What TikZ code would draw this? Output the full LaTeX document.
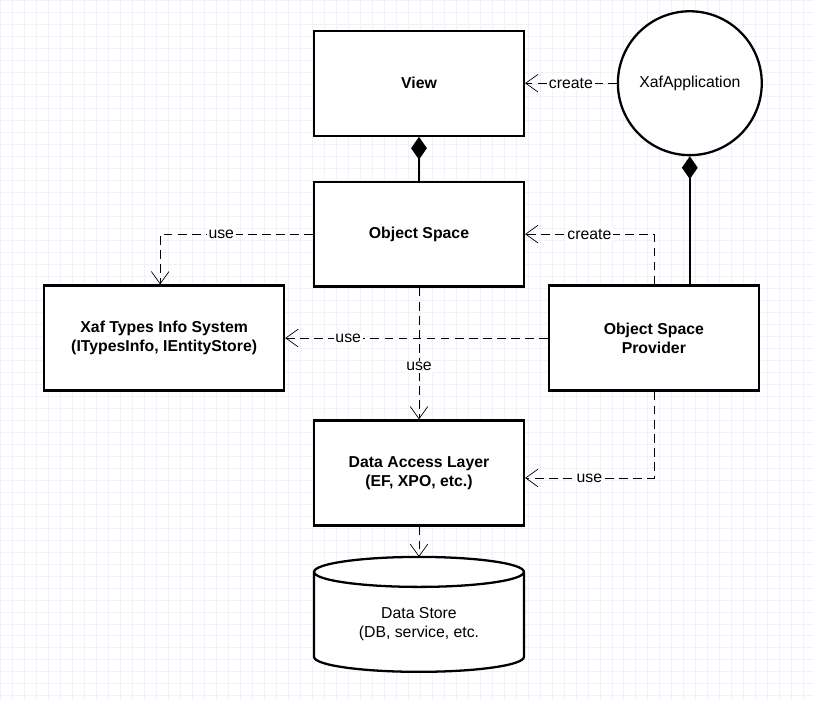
\documentclass[tikz,border=0pt]{standalone}
\usepackage{fontspec}
\setmainfont{Liberation Sans}
\usetikzlibrary{arrows.meta}
\tikzset{
  box/.style={draw, line width=1.3pt, minimum width=4.2cm, minimum height=2.1cm, align=center, font=\bfseries\small, fill=white},
  dep/.style={dashed, dash pattern=on 5pt off 3pt, -{Straight Barb[length=7pt,width=10pt]}},
  comp/.style={{Diamond[length=13pt,width=9pt]}-},
  lbl/.style={fill=white, inner sep=1pt, font=\small}
}
\begin{document}
\begin{tikzpicture}[x=0.02cm,y=-0.02cm]
   \fill[white] (0,0) rectangle (813,700);
   \draw[blue!6, line width=0.3pt, step=0.24cm] (0,0) grid (813,700);
   \useasboundingbox (0,0) rectangle (813,700);
   % boxes
   \node[box] (view) at (419,83) {View};
   \node[draw, circle, line width=1.3pt, minimum size=2.88cm, font=\small, fill=white] (app) at (690,83) {XafApplication};
   \node[box] (os) at (419,234) {Object Space};
   \node[box, minimum width=4.8cm] (tis) at (164,338) {Xaf Types Info System\\(ITypesInfo, IEntityStore)};
   \node[box] (osp) at (654,338) {Object Space\\Provider};
   \node[box] (dal) at (419,473) {Data Access Layer\\(EF, XPO, etc.)};
   % data store
   \draw[line width=1.3pt, fill=white] (314,572) -- (314,657) arc[start angle=180, end angle=0, x radius=105, y radius=15]
     -- (524,572) arc[start angle=0, end angle=-180, x radius=105, y radius=15] -- cycle;
   \draw[line width=1.3pt] (314,572) arc[start angle=180, end angle=0, x radius=105, y radius=15];
   \coordinate (dstop) at (419,557);
   \node[align=center, font=\small] (ds) at (419,624) {Data Store\\(DB, service, etc.};
   % connectors
   \draw[dep] (app.west) -- node[lbl]{create} (view.east);
   \draw[comp, line width=0.8pt] (view.south) -- (os.north);
   \draw[comp, line width=0.8pt] (app.south) -- (app.south |- osp.north);
   \draw[dep] (osp.north) |- node[lbl, pos=0.75]{create} (os.east);
   \draw[dep] (os.west) -| node[lbl, pos=0.3]{use} ([xshift=-0.08cm]tis.north);
   \draw[dep] (osp.west) -- node[lbl, pos=0.76]{use} (tis.east);
   \draw[dep] (os.south) -- node[lbl, pos=0.6]{use} (dal.north);
   \draw[dep] (osp.south) |- node[lbl, pos=0.75]{use} ([yshift=-0.1cm]dal.east);
   \draw[dep] (dal.south) -- (dstop);
\end{tikzpicture}
\end{document}
